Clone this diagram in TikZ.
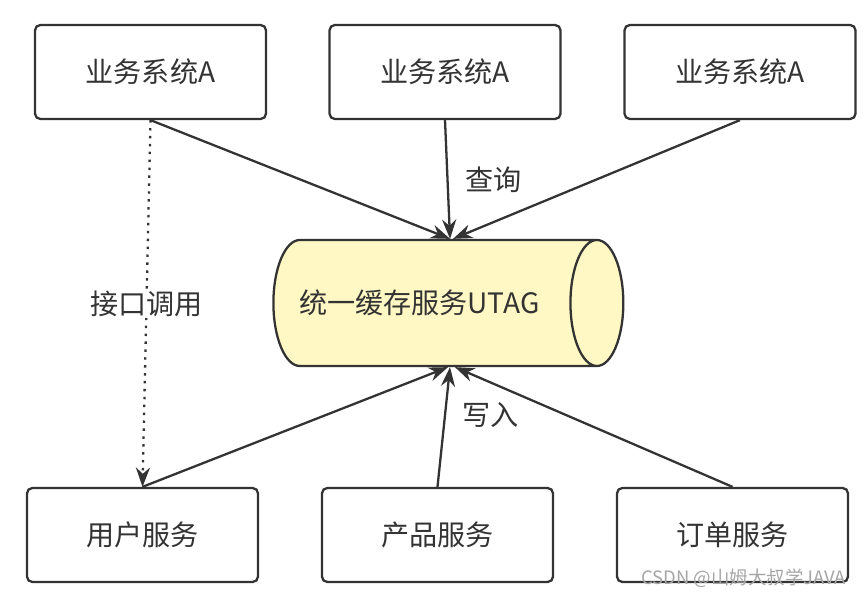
\documentclass[tikz,border=0pt]{standalone}
\usepackage{fontspec}
\setmainfont{Noto Sans CJK SC}
\usetikzlibrary{arrows.meta,shapes.geometric}
\definecolor{ink}{RGB}{51,51,51}
\definecolor{cream}{RGB}{255,248,196}

\tikzset{
    box/.style={draw=ink, rounded corners=3pt, align=center, text=ink,
        font=\fontsize{16}{19}\selectfont, minimum width=4.62cm,
        minimum height=1.88cm, line width=1.3pt},
    store/.style={cylinder, draw=ink, line width=1.3pt, cylinder uses custom fill,
        cylinder body fill=cream, cylinder end fill=cream, aspect=1.4,
        minimum width=2.52cm, minimum height=7cm, text=ink,
        font=\fontsize{16}{19}\selectfont},
    link/.style={-{Stealth[length=11pt, width=8pt]}, draw=ink, line width=1.3pt},
    calllink/.style={link, dash pattern=on 1.4pt off 3.1pt},
    tag/.style={text=ink, font=\fontsize{16}{19}\selectfont}
}

\begin{document}
\begin{tikzpicture}[x=0.02cm, y=-0.02cm]
    \useasboundingbox[fill=white] (0,0) rectangle (864,597);
    \node[box] (sys-a) at (150.5,72) {业务系统A};
    \node[box] (sys-b) at (445,72) {业务系统A};
    \node[box] (sys-c) at (740,72) {业务系统A};
    \node[store, text width=5.2cm, align=left, inner xsep=0pt] (utag) at (429,303)
        {统一缓存服务UTAG};
    \node[box] (user) at (142.5,535) {用户服务};
    \node[box] (product) at (437.5,535) {产品服务};
    \node[box] (order) at (732.5,535) {订单服务};
    \draw[link] (sys-a.south) -- ([xshift=0.42cm]utag.north);
    \draw[link] (sys-b.south) -- node[tag, right=6pt] {查询} ([xshift=0.42cm]utag.north);
    \draw[link] (sys-c.south) -- ([xshift=0.48cm]utag.north);
    \draw[link] (user.north) -- ([xshift=0.38cm]utag.south);
    \draw[link] (product.north) -- node[tag, pos=0.6, right=6pt] {写入} ([xshift=0.42cm]utag.south);
    \draw[link] (order.north) -- ([xshift=0.52cm]utag.south);
    \draw[calllink] (sys-a.south) -- node[tag, fill=white, inner sep=1pt] {接口调用} (user.north);
    \node[text=gray!70, font=\fontsize{10.5}{12}\selectfont, anchor=east] (watermark)
        at (852,578) {CSDN @山姆大叔学JAVA};
\end{tikzpicture}
\end{document}
